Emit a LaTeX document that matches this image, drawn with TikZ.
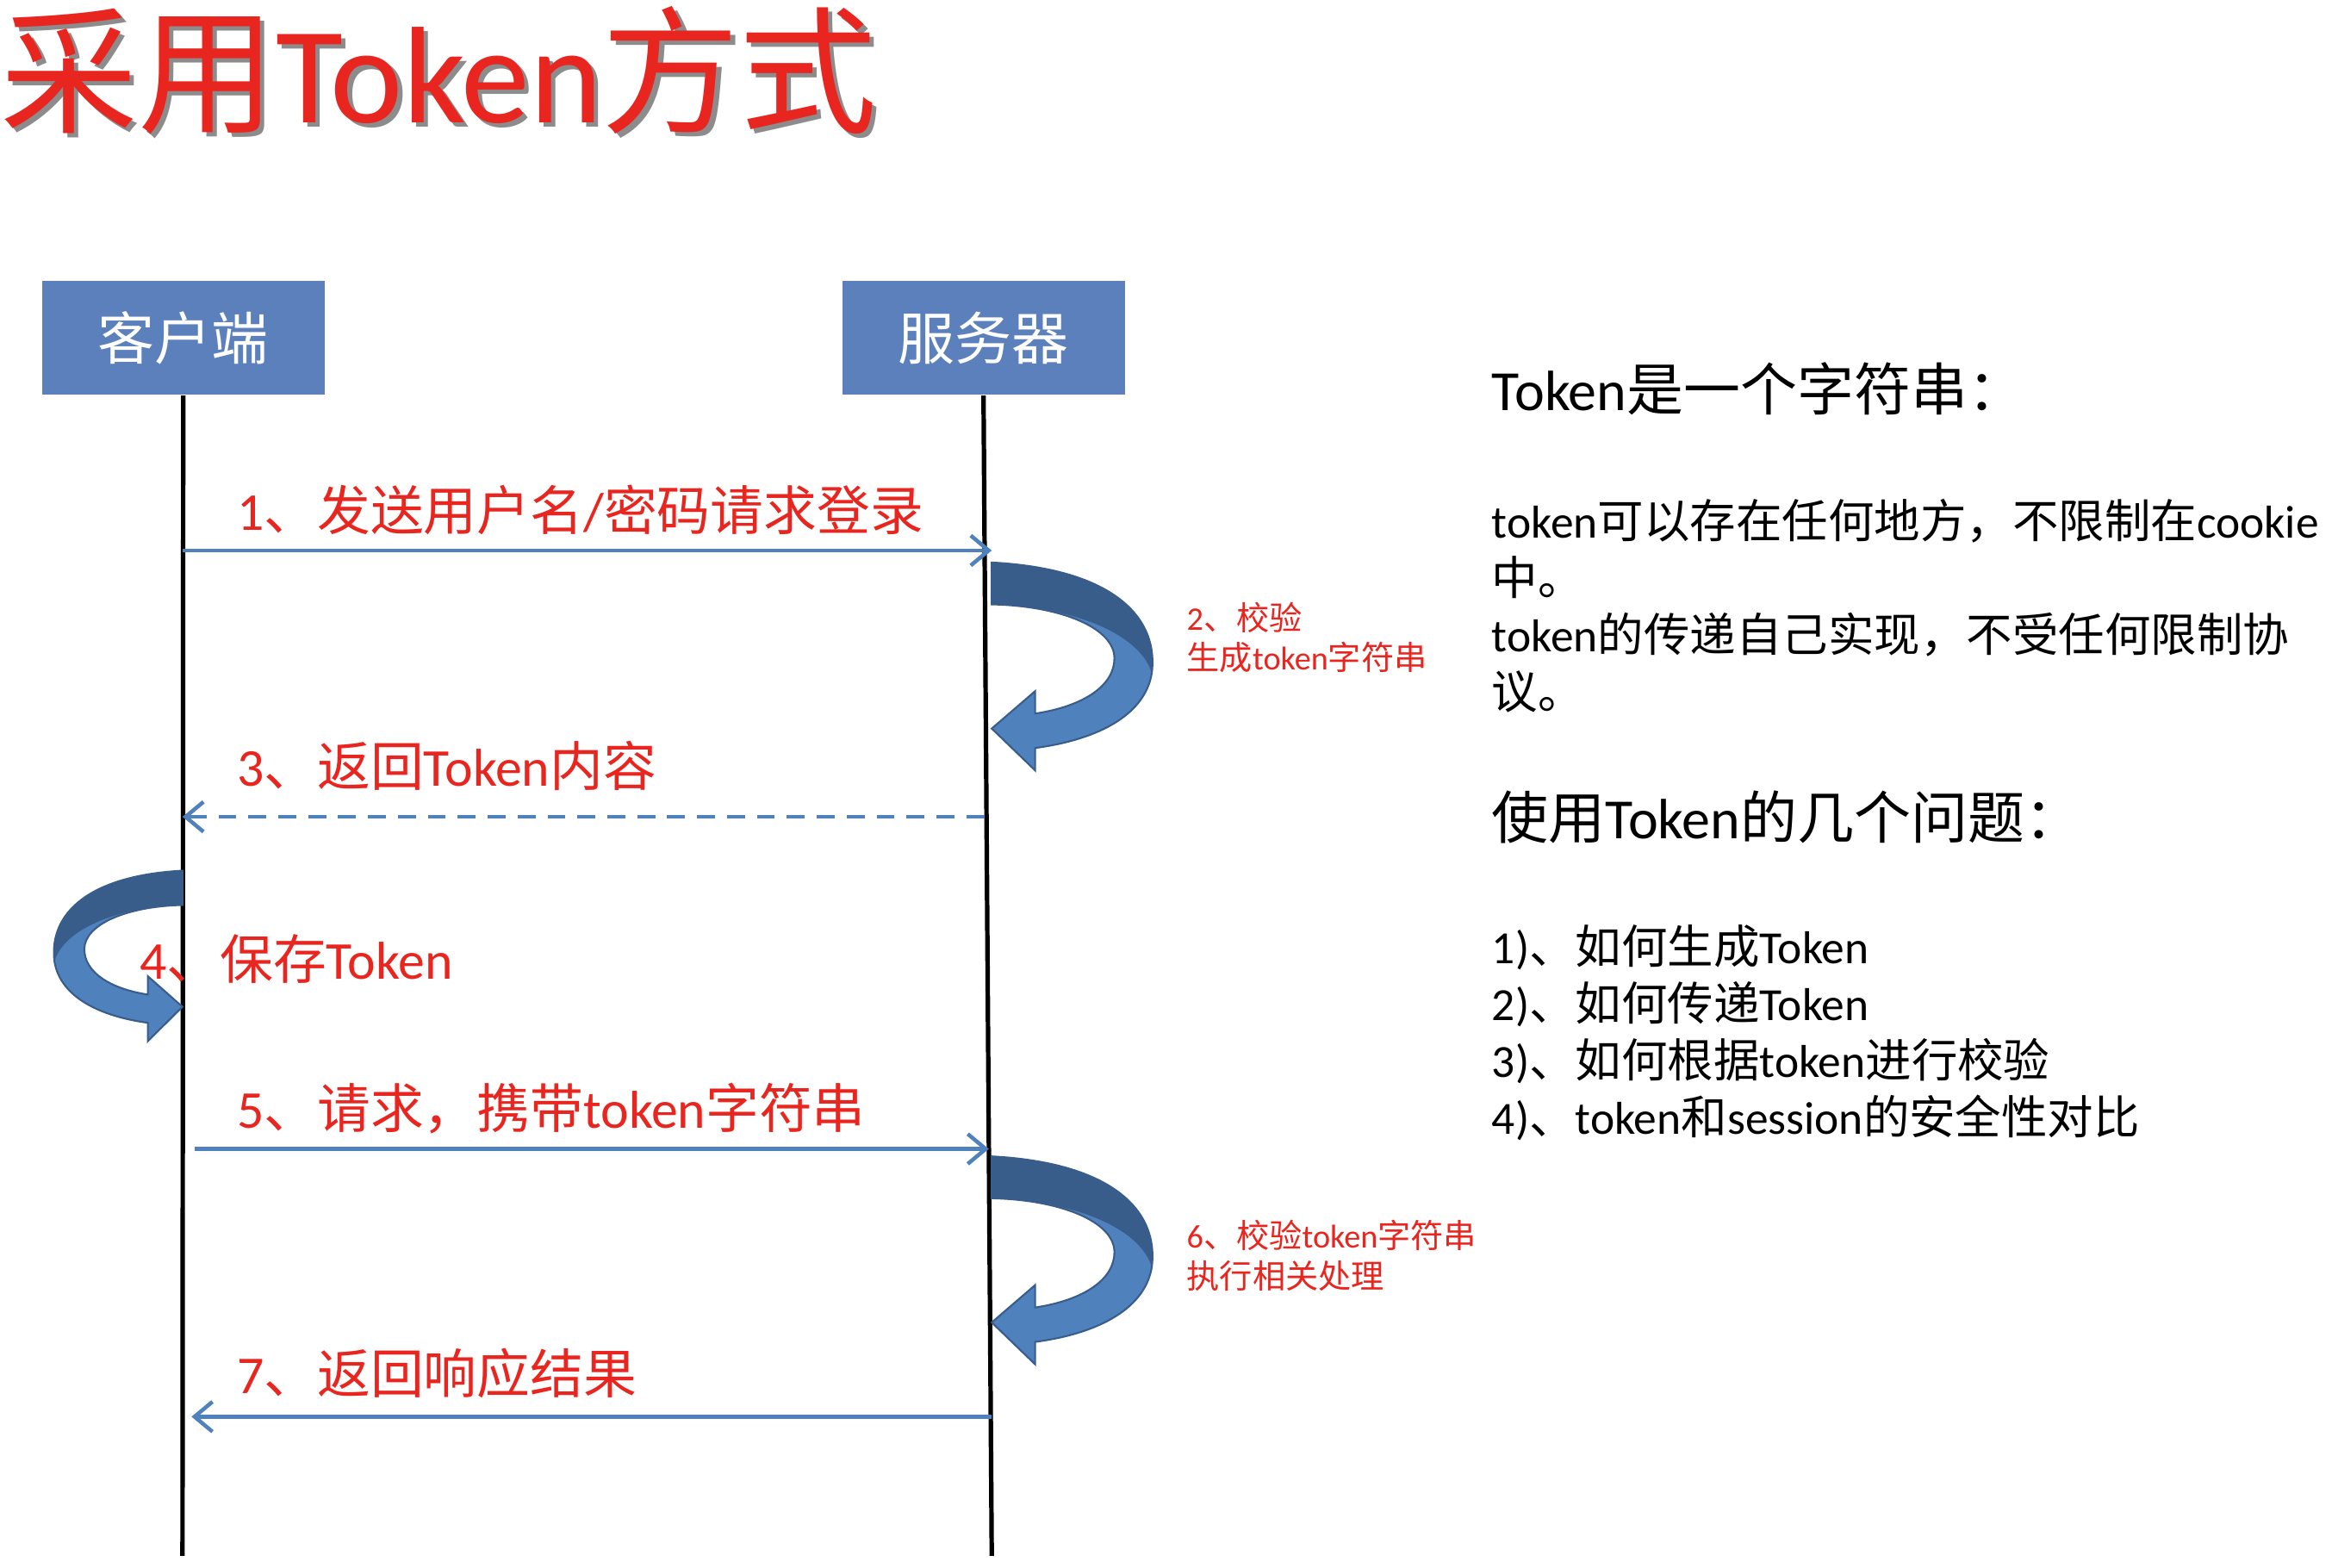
\documentclass[tikz,border=0pt]{standalone}
\usepackage{fontspec}
\usetikzlibrary{arrows.meta}
\setmainfont{Noto Sans CJK SC}
\newfontfamily\lat{Carlito}
\newcommand\Lt[1]{{\lat #1}}
\definecolor{boxblue}{HTML}{5B80BB}
\definecolor{arrblue}{HTML}{4F81BD}
\definecolor{arrdark}{HTML}{385D8A}
\definecolor{tred}{HTML}{E8251F}
\tikzset{
  lbl/.style={anchor=west,text=tred,font=\fontsize{17.8}{20}\selectfont,inner sep=0},
  sml/.style={anchor=north west,text=tred,font=\fontsize{11}{13.5}\selectfont,align=left,inner sep=0},
  rt/.style={anchor=west,font=\fontsize{15.4}{19}\selectfont,align=left,inner sep=0},
  hd/.style={anchor=west,font=\fontsize{19}{22}\selectfont,inner sep=0},
  hbox/.style={fill=boxblue,text=white,minimum width=94.5pt,minimum height=38pt,font=\fontsize{19}{22}\selectfont,inner sep=0},
  life/.style={line width=1.5pt},
  msg/.style={arrblue,line width=1.3pt,-{Straight Barb[length=6pt,width=10pt]}},
}
\newcommand\curv{%
  \fill[arrblue,draw=arrdark,line width=0.6pt] (0,0) .. controls (77,4) and (112,34) .. (107,74) .. controls (102,104) and (67,119) .. (29,124) -- (29,139) -- (0,111) -- (29,86) -- (29,101) .. controls (62,96) and (82,82) .. (82,64) .. controls (82,44) and (47,29) .. (0,28) -- cycle;
  \fill[arrdark] (0,0) .. controls (77,4) and (112,34) .. (107,74) .. controls (100,50) and (60,30) .. (0,28) -- cycle;}
\begin{document}
\begin{tikzpicture}[x=0.5pt,y=-0.5pt]
\useasboundingbox[fill=white] (0,0) rectangle (1563,1048);
\node[anchor=west,text=black!45,font=\fontsize{46}{50}\selectfont,inner sep=0] at (3,50) {采用\Lt{Token}方式};
\node[anchor=west,text=tred,font=\fontsize{46}{50}\selectfont,inner sep=0] (title) at (0,47) {采用\Lt{Token}方式};
\node[hbox] (c) at (122.5,226) {客户端};
\node[hbox] (s) at (657.5,226) {服务器};
\coordinate (cb) at (122,1040);
\coordinate (sb) at (663,1040);
\draw[life] (c.south) -- (cb);
\draw[life] (s.south) -- (sb);
\coordinate (a1) at (122,368); \coordinate (b1) at (663,368);
\draw[msg] (a1) -- (b1);
\node[lbl] (l1) at (158,341) {\Lt{1}、发送用户名\Lt{/}密码请求登录};
\begin{scope}[shift={(663,376)}] \curv \end{scope}
\node[sml] (l2) at (793,402) {\Lt{2}、校验\\生成\Lt{token}字符串};
\coordinate (a3) at (658,546); \coordinate (b3) at (122,546);
\draw[msg,dash pattern=on 6pt off 4pt] (a3) -- (b3);
\node[lbl] (l3) at (158,512) {\Lt{3}、返回\Lt{Token}内容};
\begin{scope}[shift={(122,582)},xscale=-0.8,yscale=0.82] \curv \end{scope}
\node[lbl] (l4) at (93,641) {\Lt{4}、保存\Lt{Token}};
\coordinate (a5) at (130,768); \coordinate (b5) at (661,768);
\draw[msg] (a5) -- (b5);
\node[lbl] (l5) at (158,741) {\Lt{5}、请求，携带\Lt{token}字符串};
\begin{scope}[shift={(663,773)}] \curv \end{scope}
\node[sml] (l6) at (793,815) {\Lt{6}、校验\Lt{token}字符串\\执行相关处理};
\coordinate (a7) at (663,947); \coordinate (b7) at (128,947);
\draw[msg] (a7) -- (b7);
\node[lbl] (l7) at (158,918) {\Lt{7}、返回响应结果};
\node[hd] (h1) at (997,260) {\Lt{Token}是一个字符串：};
\node[rt,anchor=north west] (p1) at (997,333) {\Lt{token}可以存在任何地方，不限制在\Lt{cookie}\\中。\\\Lt{token}的传递自己实现，不受任何限制协\\议。};
\node[hd] (h2) at (997,546) {使用\Lt{Token}的几个问题：};
\node[rt,anchor=north west] (p2) at (997,618) {\Lt{1)}、如何生成\Lt{Token}\\\Lt{2)}、如何传递\Lt{Token}\\\Lt{3)}、如何根据\Lt{token}进行校验\\\Lt{4)}、\Lt{token}和\Lt{session}的安全性对比};
\end{tikzpicture}
\end{document}
